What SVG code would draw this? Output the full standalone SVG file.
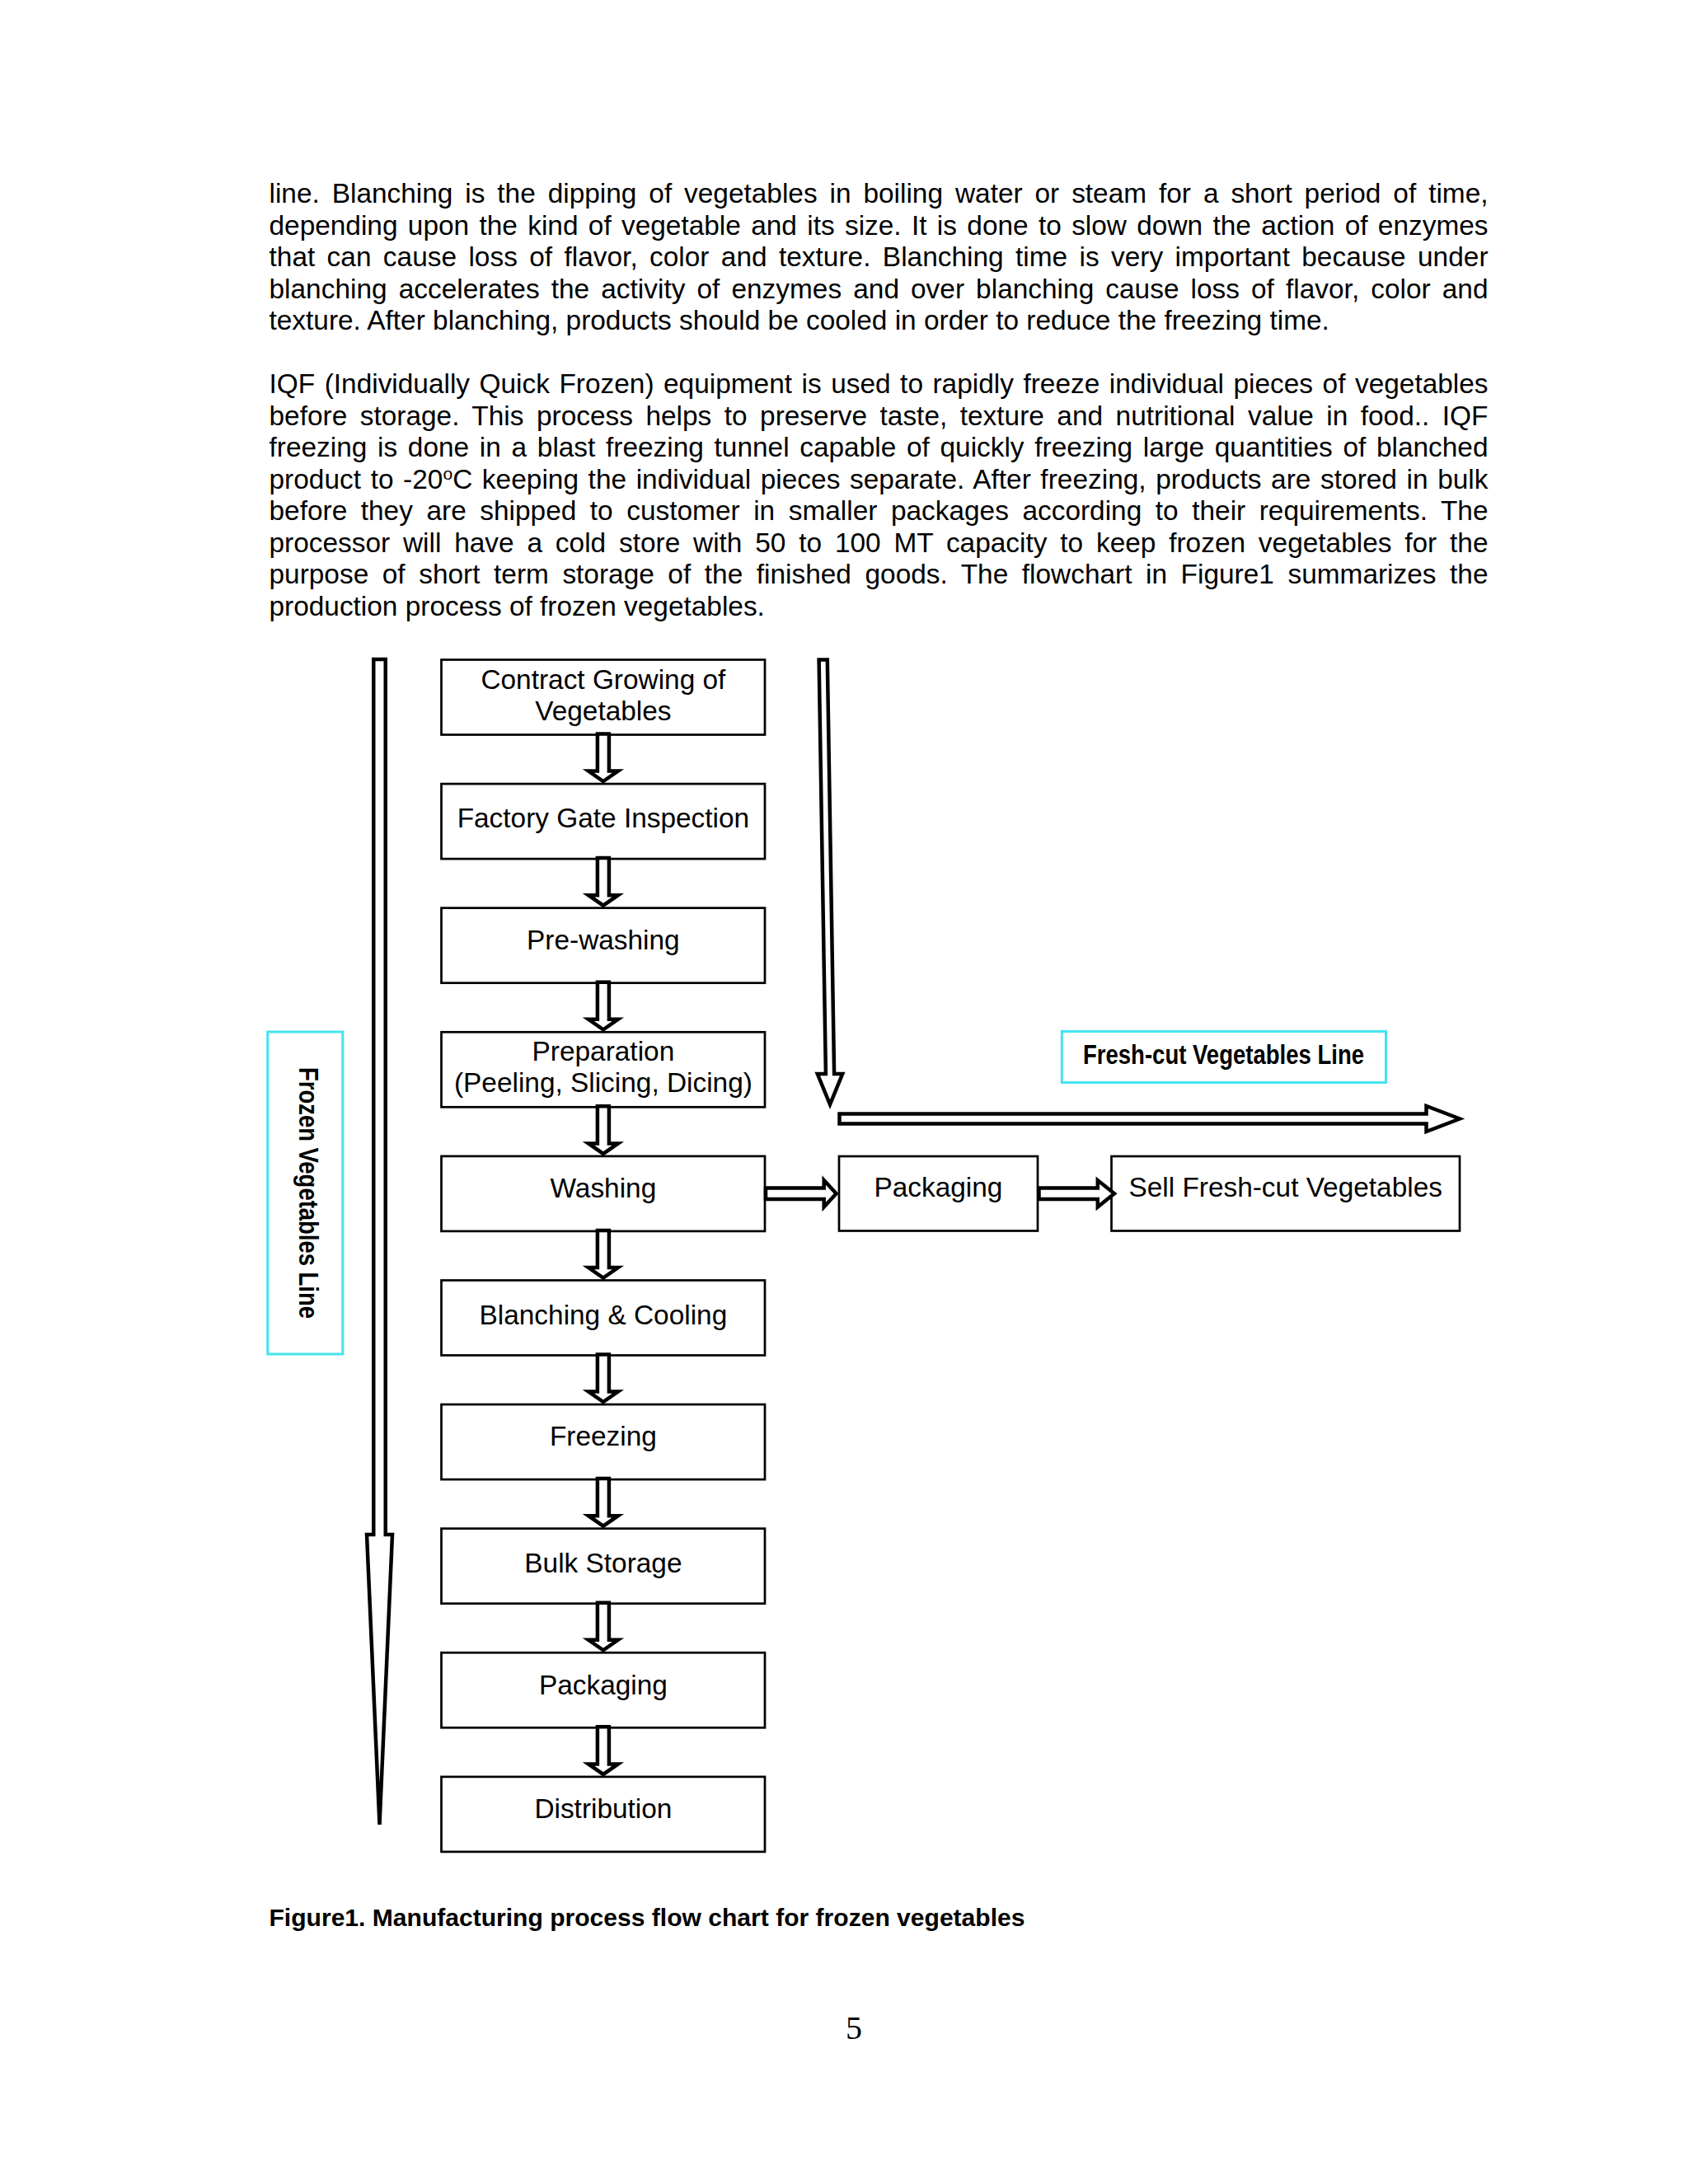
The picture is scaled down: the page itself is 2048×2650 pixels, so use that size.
<svg xmlns="http://www.w3.org/2000/svg" width="2048" height="2650" viewBox="0 0 2048 2650">
<style>
.bt{font-family:"Liberation Sans",Arial,sans-serif;font-size:33.4px;fill:#000}
.box{fill:#fff;stroke:#000;stroke-width:2.7}
.lbl{font-family:"Liberation Sans",Arial,sans-serif;font-size:33.4px;fill:#000;text-anchor:middle}
.arr{fill:#fff;stroke:#000;stroke-width:4.5;stroke-linejoin:miter}
.cy{fill:#fff;stroke:#45e3ee;stroke-width:3}
.nb{font-family:"Liberation Sans Narrow","Arial Narrow","Liberation Sans",Arial,sans-serif;font-weight:bold;font-size:33.4px;fill:#000}
.cap{font-family:"Liberation Sans",Arial,sans-serif;font-weight:bold;font-size:30.1px;fill:#000}
</style>
<rect x="0" y="0" width="2048" height="2650" fill="#fff"/>
<g id="body-text" class="bt">
<text x="326.5" y="246" word-spacing="5.65" textLength="1479" lengthAdjust="spacing">line. Blanching is the dipping of vegetables in boiling water or steam for a short period of time,</text>
<text x="326.5" y="284.5" word-spacing="3.06" textLength="1479" lengthAdjust="spacing">depending upon the kind of vegetable and its size. It is done to slow down the action of enzymes</text>
<text x="326.5" y="323" word-spacing="5.04" textLength="1479" lengthAdjust="spacing">that can cause loss of flavor, color and texture. Blanching time is very important because under</text>
<text x="326.5" y="361.5" word-spacing="4.74" textLength="1479" lengthAdjust="spacing">blanching accelerates the activity of enzymes and over blanching cause loss of flavor, color and</text>
<text x="326.5" y="400">texture. After blanching, products should be cooled in order to reduce the freezing time.</text>
<text x="326.5" y="477" word-spacing="2.25" textLength="1479" lengthAdjust="spacing">IQF (Individually Quick Frozen) equipment is used to rapidly freeze individual pieces of vegetables</text>
<text x="326.5" y="515.5" word-spacing="6.19" textLength="1479" lengthAdjust="spacing">before storage. This process helps to preserve taste, texture and nutritional value in food.. IQF</text>
<text x="326.5" y="554" word-spacing="3.43" textLength="1479" lengthAdjust="spacing">freezing is done in a blast freezing tunnel capable of quickly freezing large quantities of blanched</text>
<text x="326.5" y="592.5" word-spacing="2.28" textLength="1479" lengthAdjust="spacing">product to -20<tspan dy="-11" font-size="21">o</tspan><tspan dy="11">C keeping the individual pieces separate. After freezing, products are stored in bulk</tspan></text>
<text x="326.5" y="631" word-spacing="7.25" textLength="1479" lengthAdjust="spacing">before they are shipped to customer in smaller packages according to their requirements. The</text>
<text x="326.5" y="669.5" word-spacing="6.52" textLength="1479" lengthAdjust="spacing">processor will have a cold store with 50 to 100 MT capacity to keep frozen vegetables for the</text>
<text x="326.5" y="708" word-spacing="7.26" textLength="1479" lengthAdjust="spacing">purpose of short term storage of the finished goods. The flowchart in Figure1 summarizes the</text>
<text x="326.5" y="746.5">production process of frozen vegetables.</text>
</g>

<g id="n-frozen-line">
<rect class="cy" x="324.7" y="1252" width="91.1" height="391"/>
<text class="nb" transform="translate(363,1447.5) rotate(90)" x="0" y="0" text-anchor="middle" textLength="305" lengthAdjust="spacingAndGlyphs">Frozen Vegetables Line</text>
</g>
<g id="n-freshcut-line">
<rect class="cy" x="1288.3" y="1251.5" width="393.2" height="62"/>
<text class="nb" x="1484.5" y="1291" text-anchor="middle" textLength="341" lengthAdjust="spacingAndGlyphs">Fresh-cut Vegetables Line</text>
</g>

<g id="n-contract"><rect class="box" x="535.5" y="800.5" width="392.5" height="91"/><text class="lbl" x="731.9" y="835.5">Contract Growing of</text><text class="lbl" x="731.9" y="873.5">Vegetables</text></g>
<g id="n-factory"><rect class="box" x="535.5" y="951.1" width="392.5" height="91"/><text class="lbl" x="731.9" y="1004">Factory Gate Inspection</text></g>
<g id="n-prewash"><rect class="box" x="535.5" y="1101.7" width="392.5" height="91"/><text class="lbl" x="731.9" y="1151.5">Pre-washing</text></g>
<g id="n-preparation"><rect class="box" x="535.5" y="1252.3" width="392.5" height="91"/><text class="lbl" x="731.9" y="1287.3">Preparation</text><text class="lbl" x="731.9" y="1325.3">(Peeling, Slicing, Dicing)</text></g>
<g id="n-washing"><rect class="box" x="535.5" y="1402.9" width="392.5" height="91"/><text class="lbl" x="731.9" y="1453">Washing</text></g>
<g id="n-blanching"><rect class="box" x="535.5" y="1553.5" width="392.5" height="91"/><text class="lbl" x="731.9" y="1606.5">Blanching &amp; Cooling</text></g>
<g id="n-freezing"><rect class="box" x="535.5" y="1704.1" width="392.5" height="91"/><text class="lbl" x="731.9" y="1754">Freezing</text></g>
<g id="n-bulk"><rect class="box" x="535.5" y="1854.7" width="392.5" height="91"/><text class="lbl" x="731.9" y="1908">Bulk Storage</text></g>
<g id="n-packaging"><rect class="box" x="535.5" y="2005.3" width="392.5" height="91"/><text class="lbl" x="731.9" y="2056">Packaging</text></g>
<g id="n-distribution"><rect class="box" x="535.5" y="2155.9" width="392.5" height="91"/><text class="lbl" x="731.9" y="2205.5">Distribution</text></g>
<g id="n-fresh-packaging"><rect class="box" x="1018" y="1403" width="241" height="90.5"/><text class="lbl" x="1138.4" y="1452">Packaging</text></g>
<g id="n-sell"><rect class="box" x="1348.5" y="1403" width="422.5" height="90.5"/><text class="lbl" x="1559.7" y="1452">Sell Fresh-cut Vegetables</text></g>

<g id="connectors">
<polygon class="arr" points="453.25,800 467.75,800 467.75,1862 476,1862 460.5,2214 445,1862 453.25,1862"/>
<polygon class="arr" points="993.6,800.5 1003.8,800.5 1012.1,1303 1022.2,1303 1007,1340 991.8,1303 1001.9,1303"/>
<polygon class="arr" points="1018.5,1351.5 1730.5,1351.5 1730.5,1342 1771,1357.5 1730.5,1373 1730.5,1363.5 1018.5,1363.5"/>
<polygon class="arr" points="929,1441.55 999.7,1441.55 999.7,1432.1 1014.6,1448.3 999.7,1464.5 999.7,1455.05 929,1455.05"/>
<polygon class="arr" points="1260.5,1441.55 1331.8,1441.55 1331.8,1432.1 1352,1448.3 1331.8,1464.5 1331.8,1455.05 1260.5,1455.05"/>
<polygon class="arr" points="724.9,890.5 738.9,890.5 738.9,935.6 749.9,935.6 731.9,948.1 713.9,935.6 724.9,935.6"/>
<polygon class="arr" points="724.9,1041.1 738.9,1041.1 738.9,1086.2 749.9,1086.2 731.9,1098.7 713.9,1086.2 724.9,1086.2"/>
<polygon class="arr" points="724.9,1191.7 738.9,1191.7 738.9,1236.8 749.9,1236.8 731.9,1249.3 713.9,1236.8 724.9,1236.8"/>
<polygon class="arr" points="724.9,1342.3 738.9,1342.3 738.9,1387.4 749.9,1387.4 731.9,1399.9 713.9,1387.4 724.9,1387.4"/>
<polygon class="arr" points="724.9,1492.9 738.9,1492.9 738.9,1538 749.9,1538 731.9,1550.5 713.9,1538 724.9,1538"/>
<polygon class="arr" points="724.9,1643.5 738.9,1643.5 738.9,1688.6 749.9,1688.6 731.9,1701.1 713.9,1688.6 724.9,1688.6"/>
<polygon class="arr" points="724.9,1794.1 738.9,1794.1 738.9,1839.2 749.9,1839.2 731.9,1851.7 713.9,1839.2 724.9,1839.2"/>
<polygon class="arr" points="724.9,1944.7 738.9,1944.7 738.9,1989.8 749.9,1989.8 731.9,2002.3 713.9,1989.8 724.9,1989.8"/>
<polygon class="arr" points="724.9,2095.3 738.9,2095.3 738.9,2140.4 749.9,2140.4 731.9,2152.9 713.9,2140.4 724.9,2140.4"/>
</g>

<text class="cap" x="326.5" y="2337" textLength="917" lengthAdjust="spacingAndGlyphs">Figure1. Manufacturing process flow chart for frozen vegetables</text>
<text x="1036" y="2473.5" font-family="'Liberation Serif','Times New Roman',serif" font-size="40" text-anchor="middle" fill="#000">5</text>
</svg>
